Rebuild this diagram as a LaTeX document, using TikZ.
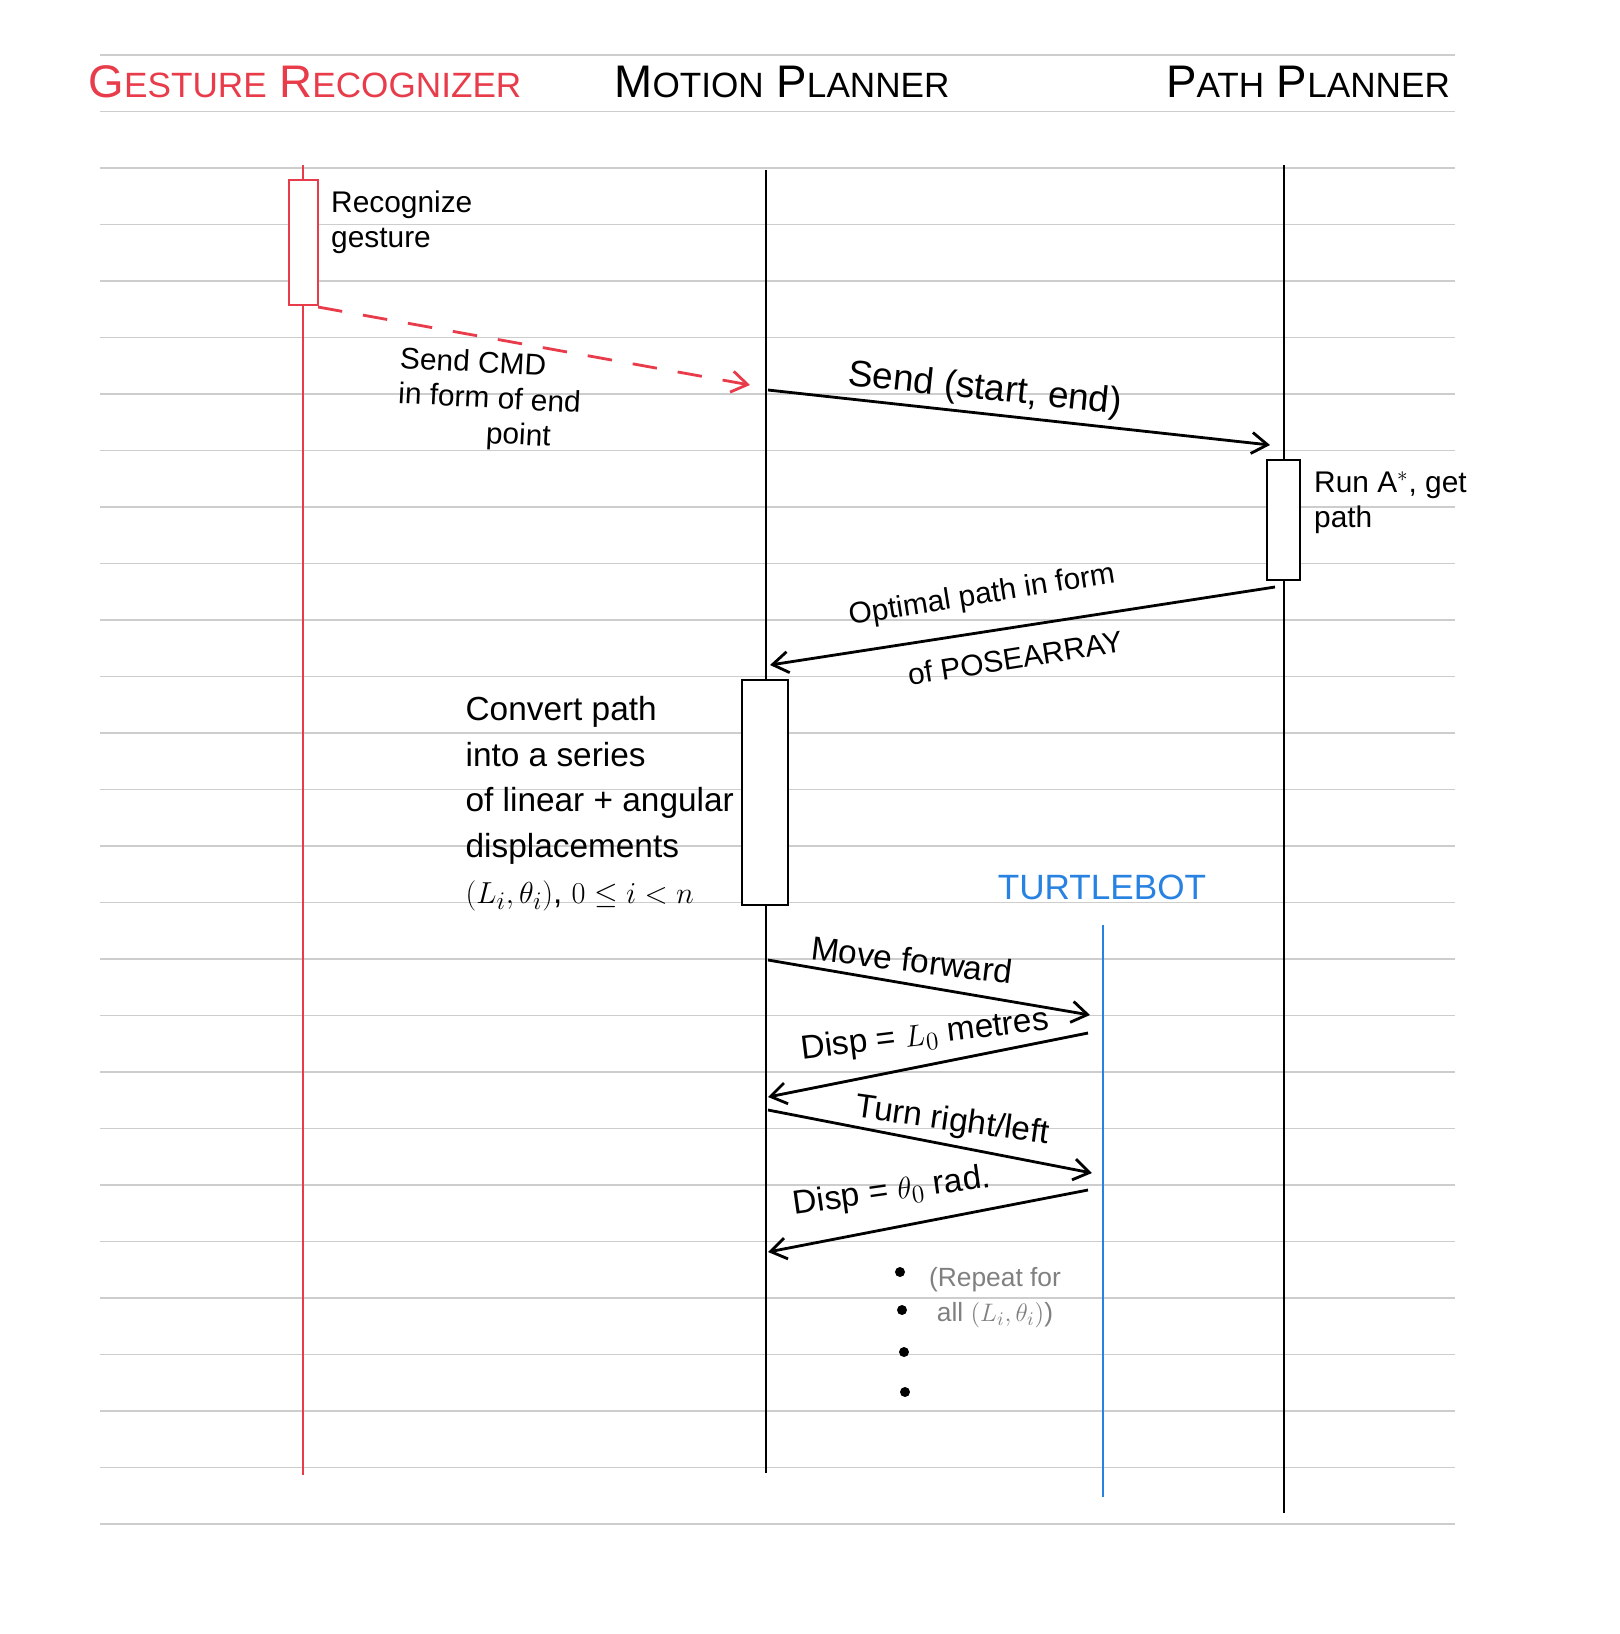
\documentclass[tikz,border=0pt]{standalone}
\usepackage{fontspec}
\setmainfont{Liberation Sans}
\usetikzlibrary{arrows.meta}
\definecolor{gred}{RGB}{232,60,75}
\definecolor{tblue}{RGB}{40,130,225}
\definecolor{rule}{RGB}{205,205,205}
\begin{document}
\begin{tikzpicture}[x=0.02cm,y=-0.02cm,
  life/.style={line width=1.6pt},
  act/.style={draw,line width=1.6pt,fill=white},
  msg/.style={line width=1.6pt,-{Straight Barb[length=9pt,width=12pt]}},
  lbl/.style={font=\fontsize{17}{20}\selectfont,align=left},
  hdr/.style={font=\fontsize{26}{30}\selectfont}]
\useasboundingbox (0,0) rectangle (1620,1634);
\fill[white] (0,0) rectangle (1620,1634);
\foreach \i in {0,...,26} \draw[rule,line width=0.8pt] (100,{55+56.5*\i}) -- (1455,{55+56.5*\i});
% headers
\node[hdr,text=gred] (h1) at (305,82) {G{\fontsize{20}{24}\selectfont ESTURE} R{\fontsize{20}{24}\selectfont ECOGNIZER}};
\node[hdr] (h2) at (782,82) {M{\fontsize{20}{24}\selectfont OTION} P{\fontsize{20}{24}\selectfont LANNER}};
\node[hdr] (h3) at (1308,82) {P{\fontsize{20}{24}\selectfont ATH} P{\fontsize{20}{24}\selectfont LANNER}};
\node[font=\fontsize{20}{24}\selectfont,text=tblue] (h4) at (1102,887) {TURTLEBOT};
% lifelines
\coordinate (g1) at (303,165); \coordinate (g2) at (303,1475);
\coordinate (m1) at (766,170); \coordinate (m2) at (766,1473);
\coordinate (p1) at (1284,165); \coordinate (p2) at (1284,1513);
\coordinate (t1) at (1103,925); \coordinate (t2) at (1103,1497);
\draw[life,gred] (g1) -- (g2);
\draw[life] (m1) -- (m2);
\draw[life] (p1) -- (p2);
\draw[life,tblue] (t1) -- (t2);
% activations
\draw[act,draw=gred] (289,180) rectangle (318,305);
\draw[act] (1267,460) rectangle (1300,580);
\draw[act] (742,680) rectangle (788,905);
\node[lbl,anchor=north west] (r1) at (325,185) {Recognize\\gesture};
\node[lbl,anchor=north west] (r2) at (1308,465) {Run A$^{*}$, get\\path};
\node[lbl,anchor=north east,align=left,font=\fontsize{19}{26}\selectfont] (r3) at (740,690) {Convert path\\into a series\\of linear + angular\\displacements\\$(L_i, \theta_i)$, $0\le i<n$};
% messages
\coordinate (a1) at (318,307); \coordinate (a2) at (750,385);
\draw[msg,gred,dashed,dash pattern=on 14pt off 12pt] (a1) -- (a2);
\node[lbl,anchor=north west,rotate=-3] (l1) at (395,340) {Send CMD\\in form of end\\\hspace*{3em}point};
\coordinate (b1) at (768,390); \coordinate (b2) at (1270,445);
\draw[msg] (b1) -- (b2);
\node[lbl,rotate=-6,font=\fontsize{21}{24}\selectfont] (l2) at (985,390) {Send (start, end)};
\coordinate (c1) at (1275,587); \coordinate (c2) at (770,665);
\draw[msg] (c1) -- (c2);
\node[lbl,rotate=9] (l3) at (982,596) {Optimal path in form};
\node[lbl,rotate=9] (l3b) at (1015,658) {of POSEARRAY};
\coordinate (d1) at (768,960); \coordinate (d2) at (1090,1015);
\draw[msg] (d1) -- (d2);
\node[lbl,rotate=-7,font=\fontsize{19}{22}\selectfont] (l4) at (912,960) {Move forward};
\coordinate (e1) at (1088,1033); \coordinate (e2) at (768,1097);
\draw[msg] (e1) -- (e2);
\node[lbl,rotate=7,font=\fontsize{19}{22}\selectfont] (l5) at (925,1036) {Disp = $L_0$ metres};
\coordinate (f1) at (768,1110); \coordinate (f2) at (1092,1173);
\draw[msg] (f1) -- (f2);
\node[lbl,rotate=-8,font=\fontsize{19}{22}\selectfont] (l6) at (952,1122) {Turn right/left};
\coordinate (k1) at (1088,1190); \coordinate (k2) at (768,1252);
\draw[msg] (k1) -- (k2);
\node[lbl,rotate=8,font=\fontsize{19}{22}\selectfont] (l7) at (892,1192) {Disp = $\theta_0$ rad.};
% dots
\foreach \yy/\xx in {1272/900,1310/902,1352/904,1392/905} \fill (\xx,\yy) circle (5);
\node[lbl,text=gray,align=center,font=\fontsize{15}{20}\selectfont] (l8) at (995,1298) {(Repeat for\\all $(L_i, \theta_i)$)};
\end{tikzpicture}
\end{document}
